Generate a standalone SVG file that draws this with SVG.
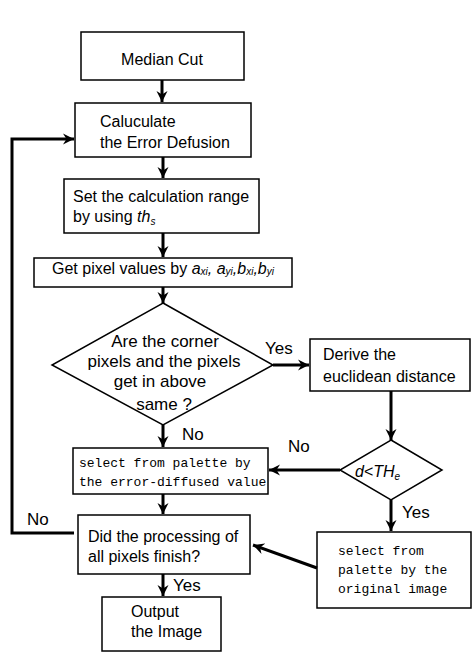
<svg xmlns="http://www.w3.org/2000/svg" width="474" height="668" viewBox="0 0 474 668">
<defs>
<marker id="ah" markerUnits="userSpaceOnUse" markerWidth="12" markerHeight="12" refX="11" refY="6" orient="auto">
<path d="M0,0.5 L11,6 L0,11.5 L3.5,6 z" fill="#000"/>
</marker>
<style>
.box{fill:#fff;stroke:#000;stroke-width:1.5}
.t{font-family:"Liberation Sans",Arial,sans-serif;font-size:16px;fill:#000}
.d{font-family:"Liberation Sans",Arial,sans-serif;font-size:17px;fill:#000;text-anchor:middle}
.mono{font-family:"Liberation Mono","Courier New",monospace;font-size:13px;fill:#000}
.lbl{font-family:"Liberation Sans",Arial,sans-serif;font-size:17px;fill:#000}
.m{font-family:"Liberation Sans",Arial,sans-serif;font-style:italic;font-size:16px;fill:#000}
.sub{font-size:10px}
.c{fill:none;stroke:#000;stroke-width:3;marker-end:url(#ah)}
</style>
</defs>
<rect width="474" height="668" fill="#fff"/>

<g id="median-cut">
<rect class="box" x="81" y="32" width="163" height="48"/>
<text class="t" x="162" y="65" text-anchor="middle">Median Cut</text>
</g>

<g id="calc-error">
<rect class="box" x="75" y="103" width="176" height="54"/>
<text class="t" x="100" y="127">Caluculate</text>
<text class="t" x="100" y="148">the Error Defusion</text>
</g>

<g id="set-range">
<rect class="box" x="64" y="179" width="195" height="54"/>
<text class="t" x="73" y="202">Set the calculation range</text>
<text class="t" x="73" y="222">by using <tspan class="m">th</tspan><tspan class="m sub" dy="3">s</tspan></text>
</g>

<g id="get-pixel">
<rect class="box" x="34" y="258" width="258" height="29"/>
<text class="t" x="52" y="274">Get pixel values by <tspan class="m">a</tspan><tspan class="m sub" dy="1">xi</tspan><tspan class="m" dy="-1">, a</tspan><tspan class="m sub" dy="1">yi</tspan><tspan class="m" dy="-1">,b</tspan><tspan class="m sub" dy="1">xi</tspan><tspan class="m" dy="-1">,b</tspan><tspan class="m sub" dy="1">yi</tspan></text>
</g>

<g id="corner-decision">
<polygon class="box" points="163,303 273,365 163,425 52,365"/>
<text class="d" x="165" y="347">Are the corner</text>
<text class="d" x="164" y="367">pixels and the pixels</text>
<text class="d" x="160" y="387">get in above</text>
<text class="d" x="164" y="410">same ?</text>
</g>

<g id="derive-distance">
<rect class="box" x="310" y="339" width="160" height="52"/>
<text class="t" x="323" y="360">Derive the</text>
<text class="t" x="323" y="382">euclidean distance</text>
</g>

<g id="threshold-decision">
<polygon class="box" points="391,440 442,470 391,500 340,470"/>
<text class="t" x="355" y="477"><tspan class="m" font-size="17">d</tspan>&lt;<tspan class="m" font-size="17">TH</tspan><tspan class="m sub" dy="3">e</tspan></text>
</g>

<g id="select-diffused">
<rect class="box" x="73" y="448" width="195" height="46"/>
<text class="mono" x="79" y="467">select from palette by</text>
<text class="mono" x="79" y="486">the error-diffused value</text>
</g>

<g id="all-finished">
<rect class="box" x="78" y="515" width="172" height="59"/>
<text class="t" x="88" y="542">Did the processing of</text>
<text class="t" x="88" y="562">all pixels finish?</text>
</g>

<g id="select-original">
<rect class="box" x="317" y="532" width="154" height="76"/>
<text class="mono" x="338" y="555">select from</text>
<text class="mono" x="338" y="574">palette by the</text>
<text class="mono" x="338" y="593">original image</text>
</g>

<g id="output-image">
<rect class="box" x="102" y="597" width="119" height="54"/>
<text class="t" x="131" y="617">Output</text>
<text class="t" x="131" y="637">the Image</text>
</g>

<g id="connectors">
<line class="c" x1="162" y1="80" x2="162" y2="102"/>
<line class="c" x1="163" y1="157" x2="163" y2="178"/>
<line class="c" x1="163" y1="233" x2="163" y2="257"/>
<line class="c" x1="163" y1="287" x2="163" y2="303"/>
<line class="c" x1="273" y1="365" x2="309" y2="365"/>
<line class="c" x1="391" y1="391" x2="391" y2="440"/>
<line class="c" x1="163" y1="425" x2="163" y2="447"/>
<line class="c" x1="340" y1="470" x2="269" y2="470"/>
<line class="c" x1="163" y1="494" x2="163" y2="514"/>
<line class="c" x1="391" y1="500" x2="391" y2="531"/>
<line class="c" x1="317" y1="568" x2="253" y2="545"/>
<line class="c" x1="163" y1="574" x2="163" y2="596"/>
<polyline class="c" points="74,533 12,533 12,139 74,139"/>
<text class="lbl" x="265" y="354">Yes</text>
<text class="lbl" x="182" y="440">No</text>
<text class="lbl" x="288" y="452">No</text>
<text class="lbl" x="402" y="518">Yes</text>
<text class="lbl" x="27" y="525">No</text>
<text class="lbl" x="173" y="591" font-size="14">Yes</text>
</g>
</svg>
